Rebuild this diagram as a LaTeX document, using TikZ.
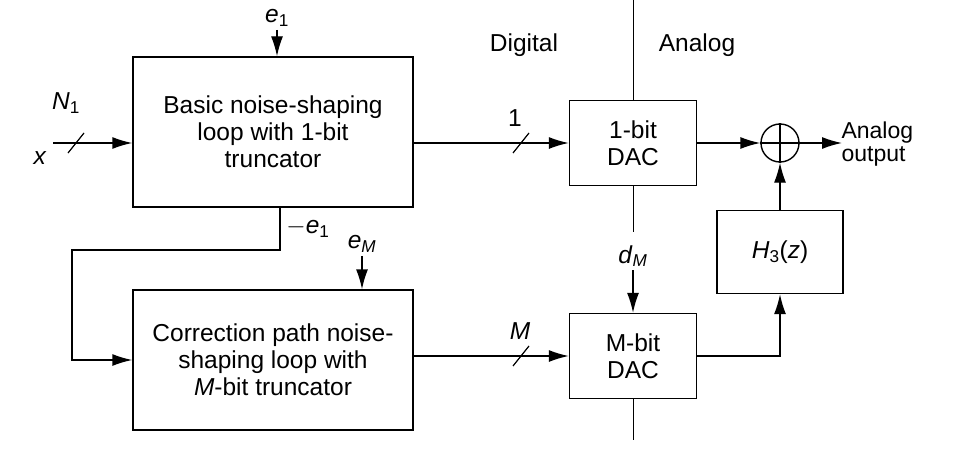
\documentclass[tikz,border=0pt]{standalone}
\usepackage{fontspec}
\setmainfont{Liberation Sans}
\usetikzlibrary{arrows.meta}
\newcommand\vsub[2]{\textit{#1}\textsubscript{#2}}
\begin{document}
\begin{tikzpicture}[x=1pt,y=-1pt,font=\fontsize{24.5}{27}\selectfont,
  blk/.style={draw,line width=1.4pt,inner sep=0pt},
  ar/.style={line width=1.4pt,-{Latex[length=20pt,width=12pt]}},
  sl/.style={line width=1.2pt}]
\useasboundingbox (0,0) rectangle (977,452);
\node[blk,minimum width=280pt,minimum height=150pt,align=center] (b1) at (273,132) {Basic noise-shaping\\loop with 1-bit\\truncator};
\node[blk,minimum width=280pt,minimum height=140pt,align=center] (b2) at (273,360) {Correction path noise-\\shaping loop with\\\textit{M}-bit truncator};
\node[blk,minimum width=127pt,minimum height=85pt,align=center] (d1) at (633,143) {1-bit\\DAC};
\node[blk,minimum width=127pt,minimum height=85pt,align=center] (d2) at (633,356) {M-bit\\DAC};
\node[blk,minimum width=126pt,minimum height=83pt] (h) at (780,252) {\textit{H}\textsubscript{3}(\textit{z})};
\node[draw,circle,line width=1.4pt,minimum size=38pt,inner sep=0pt] (s) at (780,143) {};
\draw[line width=1.4pt] (s.north)--(s.south) (s.west)--(s.east);
\node (dig) at (524,45) {Digital};
\node (ana) at (697,45) {Analog};
\draw[line width=0.8pt] (633,0)--(d1.north) (d1.south)--(633,232) (d2.south)--(633,440);
\node (x) at (40,158) {\textit{x}};
\node (n1) at (66,103) {\vsub{N}{1}};
\coordinate (xs) at (53,143);
\draw[ar] (xs)--(b1.west|-xs);
\draw[sl] (68,153)--(84,133);
\node (e1) at (277,18) {\vsub{e}{1}};
\draw[ar] (e1.south)--(b1.north-|e1);
\draw[ar] (b1.east|-d1)--(d1.west);
\draw[sl] (513,153)--(529,133);
\node (one) at (515,118) {1};
\draw[ar] (d1.east)--(s.west);
\coordinate (out) at (842,143);
\draw[ar] (s.east)--(out);
\node[align=left,anchor=west,font=\fontsize{23}{23}\selectfont] (ao) at (838,144) {Analog\\output};
\coordinate (c1) at (280,250);
\coordinate (c2) at (72,250);
\draw[ar] (b1.south-|c1)--(c1)--(c2)--(c2|-b2.west)--(b2.west);
\node (me1) at (308,228) {$-$\vsub{e}{1}};
\node (em) at (362,244) {\vsub{e}{\textit{M}}};
\draw[ar] (em.south)--(b2.north-|em);
\draw[ar] (b2.east|-d2)--(d2.west);
\draw[sl] (513,366)--(529,346);
\node (m) at (520,331) {\textit{M}};
\node (dm) at (633,256) {\vsub{d}{\textit{M}}};
\draw[ar] (dm.south)--(d2.north);
\draw[ar] (d2.east)--(h.south|-d2)--(h.south);
\draw[ar] (h.north)--(s.south);
\end{tikzpicture}
\end{document}
